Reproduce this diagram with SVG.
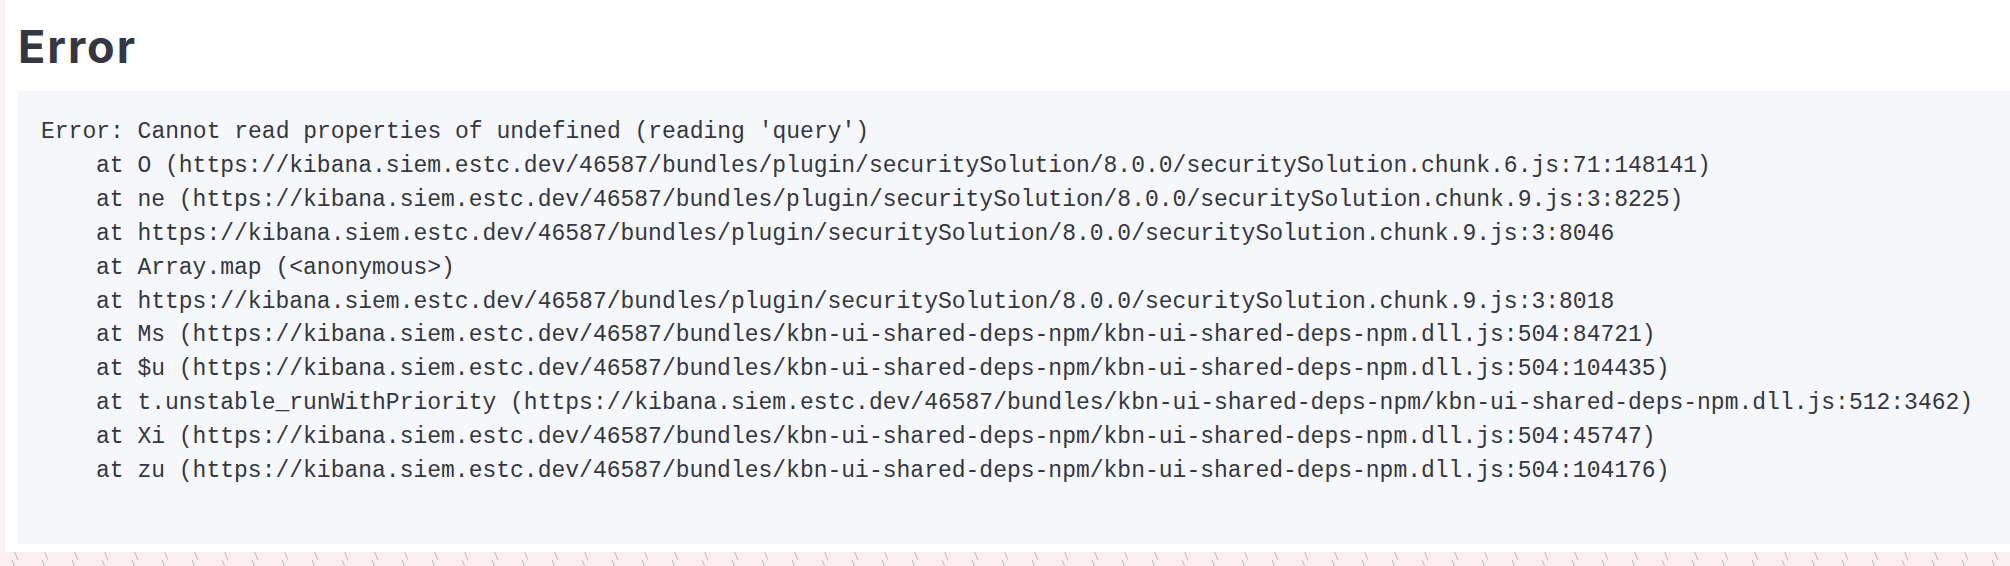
<svg xmlns="http://www.w3.org/2000/svg" width="2010" height="566" viewBox="0 0 2010 566">
<defs>
<pattern id="hatch" width="30" height="14" patternUnits="userSpaceOnUse"><path d="M12 0 L18 14" stroke="#c9b4b8" stroke-width="1"/></pattern>
</defs>
<style>
.t{font-family:"Liberation Mono",monospace;font-size:23px;fill:#343741}
.h{font-family:Inter,"Liberation Sans",sans-serif;font-size:45px;font-weight:700;fill:#343741}
</style>
<rect width="2010" height="566" fill="#ffffff"/>
<rect x="0" y="0" width="5" height="566" fill="#fbeff1"/>
<rect x="0" y="552" width="2010" height="14" fill="#fbeff1"/>
<rect x="0" y="552" width="2010" height="14" fill="url(#hatch)"/>
<text class="h" x="18" y="63" textLength="117">Error</text>
<rect x="18" y="91" width="1992" height="453" fill="#f5f7fa"/>
<g id="trace">
<text class="t" x="41" y="138">Error: Cannot read properties of undefined (reading 'query')</text>
<text class="t" x="96" y="172">at O (https://kibana.siem.estc.dev/46587/bundles/plugin/securitySolution/8.0.0/securitySolution.chunk.6.js:71:148141)</text>
<text class="t" x="96" y="206">at ne (https://kibana.siem.estc.dev/46587/bundles/plugin/securitySolution/8.0.0/securitySolution.chunk.9.js:3:8225)</text>
<text class="t" x="96" y="240">at https://kibana.siem.estc.dev/46587/bundles/plugin/securitySolution/8.0.0/securitySolution.chunk.9.js:3:8046</text>
<text class="t" x="96" y="274">at Array.map (&lt;anonymous&gt;)</text>
<text class="t" x="96" y="308">at https://kibana.siem.estc.dev/46587/bundles/plugin/securitySolution/8.0.0/securitySolution.chunk.9.js:3:8018</text>
<text class="t" x="96" y="341">at Ms (https://kibana.siem.estc.dev/46587/bundles/kbn-ui-shared-deps-npm/kbn-ui-shared-deps-npm.dll.js:504:84721)</text>
<text class="t" x="96" y="375">at $u (https://kibana.siem.estc.dev/46587/bundles/kbn-ui-shared-deps-npm/kbn-ui-shared-deps-npm.dll.js:504:104435)</text>
<text class="t" x="96" y="409">at t.unstable_runWithPriority (https://kibana.siem.estc.dev/46587/bundles/kbn-ui-shared-deps-npm/kbn-ui-shared-deps-npm.dll.js:512:3462)</text>
<text class="t" x="96" y="443">at Xi (https://kibana.siem.estc.dev/46587/bundles/kbn-ui-shared-deps-npm/kbn-ui-shared-deps-npm.dll.js:504:45747)</text>
<text class="t" x="96" y="477">at zu (https://kibana.siem.estc.dev/46587/bundles/kbn-ui-shared-deps-npm/kbn-ui-shared-deps-npm.dll.js:504:104176)</text>
</g>
</svg>
